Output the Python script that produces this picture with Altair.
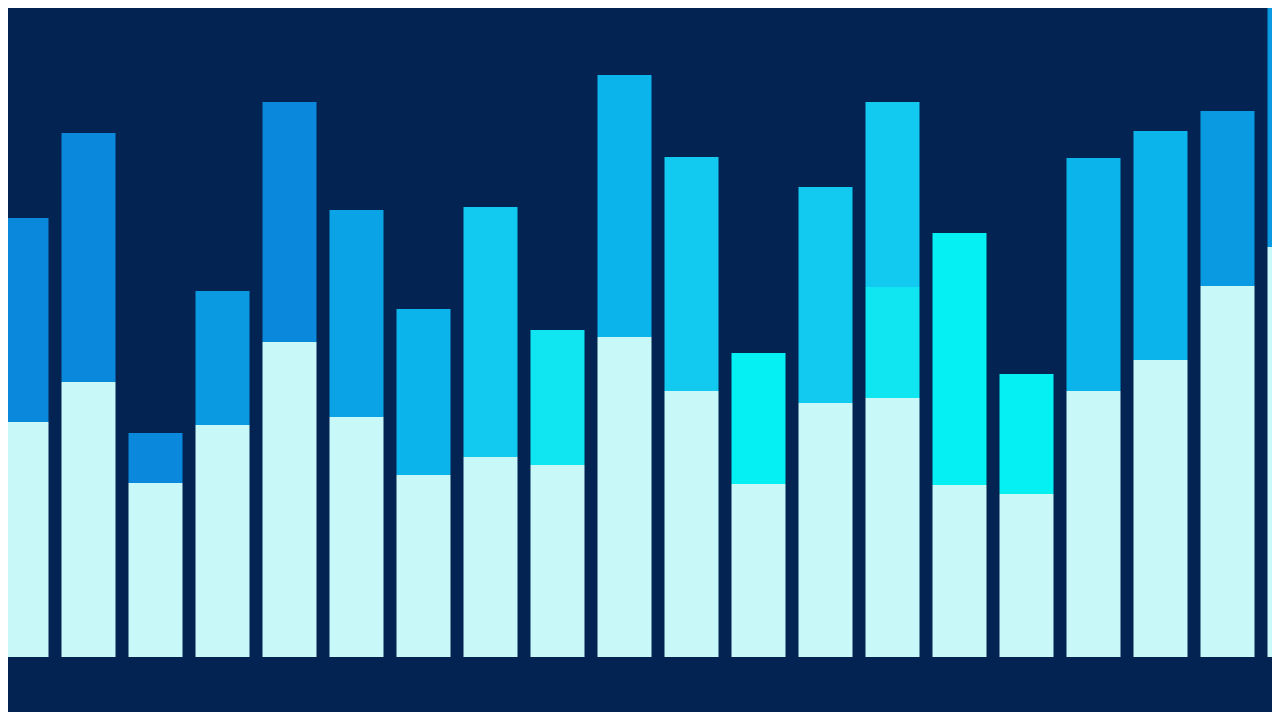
import altair as alt
import pandas as pd

# Stacked bar values (height above baseline)
base_vals  = [235, 275, 174, 232, 315, 240, 182, 200, 192, 320, 266, 173, 254, 259, 172, 163, 266, 297, 371, 410]
upper_vals = [204, 249, 50, 134, 240, 207, 166, 250, 135, 262, 234, 131, 216, 111, 252, 120, 233, 229, 175, 239]
upper_tone = ["A", "A", "A", "B", "A", "C", "D", "E", "F", "D", "E", "G", "E", "F", "G", "G", "D", "D", "B", "B"]
cap_vals   = [0, 0, 0, 0, 0, 0, 0, 0, 0, 0, 0, 0, 0, 185, 0, 0, 0, 0, 0, 0]
cap_tone   = ["E"] * 20

tone_domain = ["L", "A", "B", "C", "D", "E", "F", "G"]
tone_range = ["#c8f8f8", "#0a88dc", "#0a9ae2", "#0aa4e6", "#0cb4ec", "#12caf0", "#10e6f2", "#04f0f2"]

rows = []
for i in range(len(base_vals)):
    rows.append({"bar": i, "layer": 0, "value": base_vals[i], "tone": "L"})
    rows.append({"bar": i, "layer": 1, "value": upper_vals[i], "tone": upper_tone[i]})
    if cap_vals[i] > 0:
        rows.append({"bar": i, "layer": 2, "value": cap_vals[i], "tone": cap_tone[i]})
df = pd.DataFrame(rows)

W, H = 1264, 704

chart = (
    alt.Chart(df)
    .mark_bar(size=54, clip=True)
    .encode(
        x=alt.X("bar:Q", axis=None,
                scale=alt.Scale(domain=[-13.5 / 67, (W - 13.5) / 67],
                                nice=False, zero=False, padding=0)),
        y=alt.Y("sum(value):Q", axis=None, stack="zero",
                scale=alt.Scale(domain=[-55, 649], nice=False, zero=False, padding=0)),
        color=alt.Color("tone:N", legend=None,
                        scale=alt.Scale(domain=tone_domain, range=tone_range)),
        order=alt.Order("layer:Q", sort="ascending"),
    )
    .properties(width=W, height=H, background="#032352", padding=0,
                autosize=alt.AutoSizeParams(type="none"))
    .configure_view(stroke=None)
)

chart.save("out.html", embed_options={"renderer": "svg", "actions": False})
